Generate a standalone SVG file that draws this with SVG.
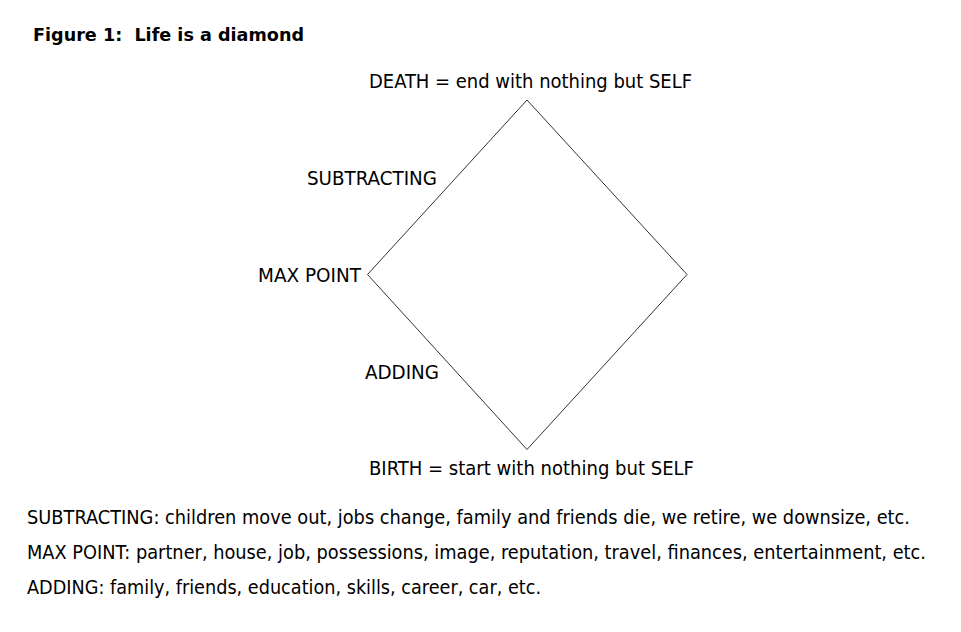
<svg xmlns="http://www.w3.org/2000/svg" width="961" height="632" viewBox="0 0 961 632">
<style>
text{font-family:"DejaVu Sans Condensed","DejaVu Sans",sans-serif;font-size:20px;fill:#000}
.title{font-family:"DejaVu Sans","Verdana",sans-serif;font-weight:bold;font-size:18.5px}
.edge{fill:none;stroke:#333;stroke-width:1}
</style>
<rect width="961" height="632" fill="#fff"/>
<text class="title" x="33" y="41" textLength="271" lengthAdjust="spacingAndGlyphs" xml:space="preserve">Figure 1:  Life is a diamond</text>
<g id="connectors">
<path class="edge" d="M527,100 L687,274.5 L527,449.5 L367.5,274.5 Z"/>
</g>
<g id="death"><text x="369" y="88" textLength="323" lengthAdjust="spacingAndGlyphs">DEATH = end with nothing but SELF</text></g>
<g id="subtracting"><text x="307" y="185" textLength="130" lengthAdjust="spacingAndGlyphs">SUBTRACTING</text></g>
<g id="maxpoint"><text x="258" y="282" textLength="103" lengthAdjust="spacingAndGlyphs">MAX POINT</text></g>
<g id="adding"><text x="365" y="379" textLength="74" lengthAdjust="spacingAndGlyphs">ADDING</text></g>
<g id="birth"><text x="369" y="475" textLength="325" lengthAdjust="spacingAndGlyphs">BIRTH = start with nothing but SELF</text></g>
<g id="legend">
<text x="27" y="524" textLength="883" lengthAdjust="spacingAndGlyphs">SUBTRACTING: children move out, jobs change, family and friends die, we retire, we downsize, etc.</text>
<text x="27" y="559" textLength="899" lengthAdjust="spacingAndGlyphs">MAX POINT: partner, house, job, possessions, image, reputation, travel, finances, entertainment, etc.</text>
<text x="27" y="594" textLength="514" lengthAdjust="spacingAndGlyphs">ADDING: family, friends, education, skills, career, car, etc.</text>
</g>
</svg>
